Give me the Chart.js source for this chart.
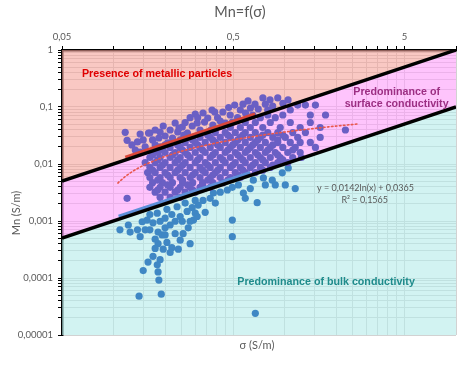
<!DOCTYPE html>
<html><head><meta charset="utf-8">
<script src="https://cdn.jsdelivr.net/npm/chart.js@4.4.1/dist/chart.umd.min.js"></script>
<style>html,body{margin:0;padding:0;background:#fff}canvas{display:block}</style>
</head><body>
<canvas id="c" width="474" height="366"></canvas>
<script>
// ---------- texts ----------
const chartTitle = 'Mn=f(σ)';
const xAxisTitle = 'σ (S/m)';
const yAxisTitle = 'Mn (S/m)';

// ---------- ticks ----------
const xTickValues = [0.05,0.1,0.15,0.2,0.25,0.3,0.35,0.4,0.45,0.5,1,1.5,2,2.5,3,3.5,4,4.5,5,10];
const xLabelValues = [0.05, 0.5, 5];
const xLabelTexts = ['0,05', '0,5', '5'];
const yDecades = [0.00001, 0.0001, 0.001, 0.01, 0.1, 1];
const yLabelTexts = ['0,00001', '0,0001', '0,001', '0,01', '0,1', '1'];
const yMinorMultipliers = [2,3,4,5,6,7,8,9];

// ---------- limit lines ----------
const limitSigma = [0.05, 10];
const upperLimitMn = [0.005, 1];
const lowerLimitMn = [0.0005, 0.1];

// ---------- points above the upper limit ----------
const upperSigma = [0.117,0.12,0.128,0.138,0.143,0.149,0.134,0.153,0.163,0.169,0.175,0.184,0.187,0.195,0.2,0.207,0.214,0.221,0.229,0.237,0.245,0.252,0.262,0.27,0.28,0.288,0.3,0.308,0.32,0.333,0.34,0.355,0.376,0.38,0.405,0.42,0.435,0.47,0.48,0.51,0.53,0.55,0.57,0.59,0.61,0.63,0.67,0.70,0.745,0.77,0.82,0.85,0.91,0.975,1.045,0.175,0.16,0.37,0.45,0.495,0.65,0.795,0.257,0.187,0.241,0.39,0.31,0.143,0.2,0.28];
const upperMn = [0.036,0.026,0.0216,0.0244,0.0336,0.0264,0.0176,0.0199,0.035,0.0264,0.0216,0.0286,0.0199,0.0464,0.031,0.0234,0.0395,0.0286,0.0524,0.0364,0.0264,0.0446,0.0535,0.035,0.065,0.0464,0.0754,0.0524,0.0395,0.0785,0.0545,0.064,0.0886,0.0483,0.065,0.0567,0.0817,0.098,0.0724,0.108,0.065,0.0886,0.112,0.0785,0.128,0.0957,0.112,0.0922,0.144,0.112,0.133,0.104,0.144,0.116,0.133,0.0395,0.035,0.0395,0.0524,0.0545,0.0724,0.0886,0.0323,0.0364,0.0428,0.0817,0.065,0.0162,0.0216,0.0286];

// ---------- points between the limits (rows of equal Mn) ----------
const midRowMn = [0.108,0.0886,0.0724,0.065,0.0535,0.0437,0.0395,0.0357,0.0292,0.0239,0.0195,0.0159,0.013,0.0106,0.0087,0.0071,0.0058,0.0047,0.0039,0.0032,0.0026,0.0025,
  0.0323,0.0264,0.0216,0.0176,0.0144,0.0118,0.0096,0.0078,0.0064,0.0052,0.0043,0.0035];
const midRowSigma = [
  [1.19,1.32,1.51],
  [1.077],
  [0.796,0.974,1.41,1.73],
  [0.72,0.88],
  [0.588,0.673,0.823,1.077,1.41],
  [0.481,0.55,0.629,0.744,0.941,1.23,1.61],
  [2.26],
  [0.393,0.449,0.514,0.588,0.673,0.796,0.91,1.113,1.32],
  [0.32,0.367,0.42,0.481,0.55,0.629,0.72,0.851,1.007,1.19,1.61],
  [0.262,0.3,0.343,0.393,0.449,0.514,0.588,0.673,0.77,0.91,1.077,1.23,1.41],
  [0.214,0.245,0.28,0.32,0.367,0.42,0.481,0.55,0.629,0.72,0.823,0.974,1.151,1.51],
  [0.181,0.2,0.229,0.262,0.3,0.343,0.393,0.449,0.514,0.588,0.673,0.77,0.88,1.041,1.23],
  [0.163,0.187,0.214,0.245,0.28,0.32,0.367,0.42,0.481,0.55,0.629,0.72,0.823,0.941,1.113,1.25],
  [0.153,0.175,0.2,0.229,0.262,0.3,0.343,0.393,0.449,0.514,0.588,0.673,0.77,0.91,1.041],
  [0.163,0.187,0.214,0.245,0.28,0.32,0.367,0.42,0.481,0.55,0.629,0.72,0.823],
  [0.158,0.175,0.2,0.229,0.262,0.3,0.343,0.393,0.449,0.514,0.588,0.673],
  [0.163,0.187,0.214,0.245,0.28,0.32,0.367,0.42,0.481,0.55],
  [0.169,0.193,0.221,0.253,0.29,0.331,0.38,0.435],
  [0.163,0.187,0.214,0.245,0.28,0.32,0.367],
  [0.175,0.2,0.229,0.262,0.3],
  [0.187,0.214,0.245],
  [0.12],
  [0.355,0.465,0.569,0.744,0.974],
  [0.29,0.38,0.532,0.696,0.91],
  [0.237,0.31,0.406,0.497,0.65,0.851],
  [0.193,0.253,0.331,0.465,0.608,0.796,1.113],
  [0.169,0.221,0.271,0.38,0.532,0.696,0.91],
  [0.181,0.237,0.31,0.435,0.569,0.744,0.974],
  [0.193,0.253,0.355,0.497,0.65,0.851],
  [0.169,0.237,0.331,0.406,0.569,0.744],
  [0.207,0.29,0.38,0.532],
  [0.181,0.253,0.355,0.465],
  [0.207,0.271,0.331],
  [0.181,0.237,0.29]
];

// ---------- points below the lower limit ----------
const lowerSigma = [0.109,0.122,0.125,0.138,0.147,0.153,0.157,0.163,0.17,0.18,0.187,0.182,0.2,0.205,0.219,0.214,0.235,0.245,0.229,0.262,0.269,0.288,0.255,0.273,0.205,0.219,0.245,0.28,0.333,0.312,0.393,0.383,0.42,0.536,0.573,0.588,0.69,0.655,0.75,0.845,0.88,1.007,1.151,0.967,1.048,0.494,0.494,0.182,0.195,0.175,0.214,0.239,0.17,0.187,0.159,0.149,0.18,0.182,0.184,0.141,0.19,0.673,0.163,0.175,0.192,0.2,0.229,0.252,0.293,0.3,0.343,0.462,0.494,0.629,0.2,0.28,0.308,0.143,0.367,0.3,0.77];
const lowerMn = [0.0007,0.00085,0.00064,0.0007,0.00097,0.0007,0.00104,0.0013,0.00093,0.00137,0.00099,0.00064,0.00112,0.0016,0.0013,0.00085,0.00178,0.0012,0.0006,0.00206,0.00147,0.00171,0.0006,0.00076,0.00042,0.00034,0.00046,0.0004,0.0023,0.0019,0.00206,0.0031,0.0032,0.0043,0.0031,0.0025,0.0021,0.0052,0.0057,0.0052,0.0043,0.0043,0.0037,0.007,0.0085,0.00104,0.00053,0.0004,0.00032,0.00033,0.00028,0.00032,0.00024,0.00021,0.00019,0.000135,0.00017,0.000128,0.000092,0.000048,0.000052,0.000024,0.0007,0.00048,0.00057,0.00076,0.00099,0.00099,0.00104,0.00137,0.00142,0.0035,0.0039,0.0037,0.00057,0.00099,0.0012,0.00053,0.0025,0.0023,0.0043];

// ---------- bands along the limits ----------
const redBandSigma = [0.117, 0.67];
const redBandMn = [0.0132, 0.0757];
const blueBandSigma = [0.107, 0.63];
const blueBandMn = [0.00121, 0.0071];

// ---------- logarithmic trendline  y = 0,0142 ln(x) + 0,0365 ----------
const trendSigma = [0.106,0.11,0.12,0.13,0.15,0.2,0.25,0.3,0.4,0.5,0.8,1.2,1.8,2.7];
const trendMn = [0.00463,0.005157,0.006392,0.007529,0.009561,0.013646,0.016815,0.019403,0.023489,0.026657,0.033331,0.039089,0.044847,0.050604];

// ---------- annotations ----------
const noteTexts = ['Presence of metallic particles','Predominance of','surface conductivity','Predominance of bulk conductivity','y = 0,0142ln(x) + 0,0365','R² = 0,1565'];
const noteSigma = [0.0654, 4.5, 4.5, 0.528, 2.96, 2.93];
const noteMn = [0.379, 0.183, 0.113, 0.000085, 0.0038, 0.0023];
const noteStyles = [
  {font:'bold 10.7px "Liberation Sans", Arial, sans-serif', color:'#e00000', align:'left'},
  {font:'bold 10.7px "Liberation Sans", Arial, sans-serif', color:'#9c2f83', align:'center'},
  {font:'bold 10.7px "Liberation Sans", Arial, sans-serif', color:'#9c2f83', align:'center'},
  {font:'bold 10.7px "Liberation Sans", Arial, sans-serif', color:'#1f8c8c', align:'left'},
  {font:'9px Lato, sans-serif', color:'#595959', align:'center'},
  {font:'9px Lato, sans-serif', color:'#595959', align:'center'}
];

// ---------- build ----------
const pts = (xs, ys) => xs.map((x, i) => ({x, y: ys[i]}));
const midPoints = midRowMn.flatMap((mn, i) => midRowSigma[i].map(s => ({x: s, y: mn})));
const yTickValues = [];
yDecades.forEach((d, i) => {
  yTickValues.push(d);
  if (i < yDecades.length - 1) yMinorMultipliers.forEach(m => yTickValues.push(+(m * d).toPrecision(6)));
});
const findLabel = (vals, texts, v) => {
  const i = vals.findIndex(t => Math.abs(t - v) / t < 1e-6);
  return i >= 0 ? texts[i] : '';
};

const purple = '#6a5fc4';
const blue = '#3f87c4';
const pointStyle = {showLine:false, pointRadius:3.6, pointHoverRadius:3.6, pointBorderWidth:0, borderWidth:0};
const lineStyle = {pointRadius:0, pointHoverRadius:0, tension:0, fill:false};

const datasets = [
  {label:'upper limit', data:pts(limitSigma, upperLimitMn), borderColor:'#000', borderWidth:3.5, order:0, ...lineStyle},
  {label:'lower limit', data:pts(limitSigma, lowerLimitMn), borderColor:'#000', borderWidth:3.5, order:1, ...lineStyle},
  {label:'trend', data:pts(trendSigma, trendMn), borderColor:'#e8574c', borderWidth:1.6, borderDash:[1.6,2.4], borderCapStyle:'round', order:2, ...lineStyle},
  {label:'red band', data:pts(redBandSigma, redBandMn), borderColor:'#d9463a', borderWidth:3, order:3, ...lineStyle},
  {label:'blue band', data:pts(blueBandSigma, blueBandMn), borderColor:'#5d8fd8', borderWidth:3, order:4, ...lineStyle},
  {label:'metallic', data:pts(upperSigma, upperMn), backgroundColor:purple, borderColor:purple, order:5, ...pointStyle},
  {label:'surface', data:midPoints, backgroundColor:purple, borderColor:purple, order:6, ...pointStyle},
  {label:'bulk', data:pts(lowerSigma, lowerMn), backgroundColor:blue, borderColor:blue, order:7, ...pointStyle},
  {label:'fill bulk', data:pts(limitSigma, lowerLimitMn), borderWidth:0, backgroundColor:'rgba(180,235,233,0.6)', order:8, ...lineStyle, fill:'start'},
  {label:'fill surface', data:pts(limitSigma, lowerLimitMn), borderWidth:0, backgroundColor:'rgba(253,157,250,0.6)', order:9, ...lineStyle, fill:10},
  {label:'fill metallic', data:pts(limitSigma, upperLimitMn), borderWidth:0, backgroundColor:'rgba(245,160,152,0.58)', order:10, ...lineStyle, fill:'end'}
];

const textPlugin = {
  id: 'texts',
  afterDatasetsDraw(chart) {
    const {ctx, scales:{x, y}} = chart;
    ctx.save();
    ctx.textBaseline = 'middle';
    noteTexts.forEach((t, i) => {
      const st = noteStyles[i];
      ctx.font = st.font; ctx.fillStyle = st.color; ctx.textAlign = st.align;
      ctx.fillText(t, x.getPixelForValue(noteSigma[i]), y.getPixelForValue(noteMn[i]));
    });
    ctx.restore();
  },
  afterDraw(chart) {
    const {ctx, chartArea} = chart;
    ctx.save();
    ctx.fillStyle = '#595959';
    ctx.textBaseline = 'middle';
    ctx.textAlign = 'center';
    ctx.font = '14.5px Lato, sans-serif';
    ctx.fillText(chartTitle, 240, 12);
    ctx.font = '11px Lato, sans-serif';
    ctx.fillText(xAxisTitle, (chartArea.left + chartArea.right) / 2 - 2, chartArea.bottom + 10);
    ctx.translate(16, 213);
    ctx.rotate(-Math.PI / 2);
    ctx.fillText(yAxisTitle, 0, 0);
    ctx.restore();
  }
};

new Chart(document.getElementById('c'), {
  type: 'line',
  data: {datasets},
  plugins: [textPlugin],
  options: {
    responsive: false,
    devicePixelRatio: 1,
    animation: false,
    events: [],
    layout: {padding: {left:0, right:18, top:20, bottom:31}},
    plugins: {legend:{display:false}, tooltip:{enabled:false}, title:{display:false}},
    scales: {
      x: {
        type: 'logarithmic', position: 'top', min: 0.05, max: 10,
        afterFit: s => { s.height = 30; },
        afterBuildTicks: s => { s.ticks = xTickValues.map(v => ({value: v})); },
        ticks: {autoSkip:false, maxRotation:0, padding:3, color:'#595959', font:{family:'Lato', size:9.5},
          callback: v => findLabel(xLabelValues, xLabelTexts, v)},
        grid: {color:'#d2d2d2', lineWidth:1, tickColor:'#000', tickLength:4, drawTicks:true},
        border: {display:true, color:'#000', width:2.5}
      },
      y: {
        type: 'logarithmic', position: 'left', min: 0.00001, max: 1,
        afterFit: s => { s.width = 62; },
        afterBuildTicks: s => { s.ticks = yTickValues.map(v => ({value: v})); },
        ticks: {autoSkip:false, padding:5, color:'#595959', font:{family:'Lato', size:9.5},
          callback: v => findLabel(yDecades, yLabelTexts, v)},
        grid: {color:'#d2d2d2', lineWidth:1, tickColor:'#000', tickLength:4, drawTicks:true},
        border: {display:true, color:'#000', width:2.5}
      }
    }
  }
});
</script>
</body></html>
